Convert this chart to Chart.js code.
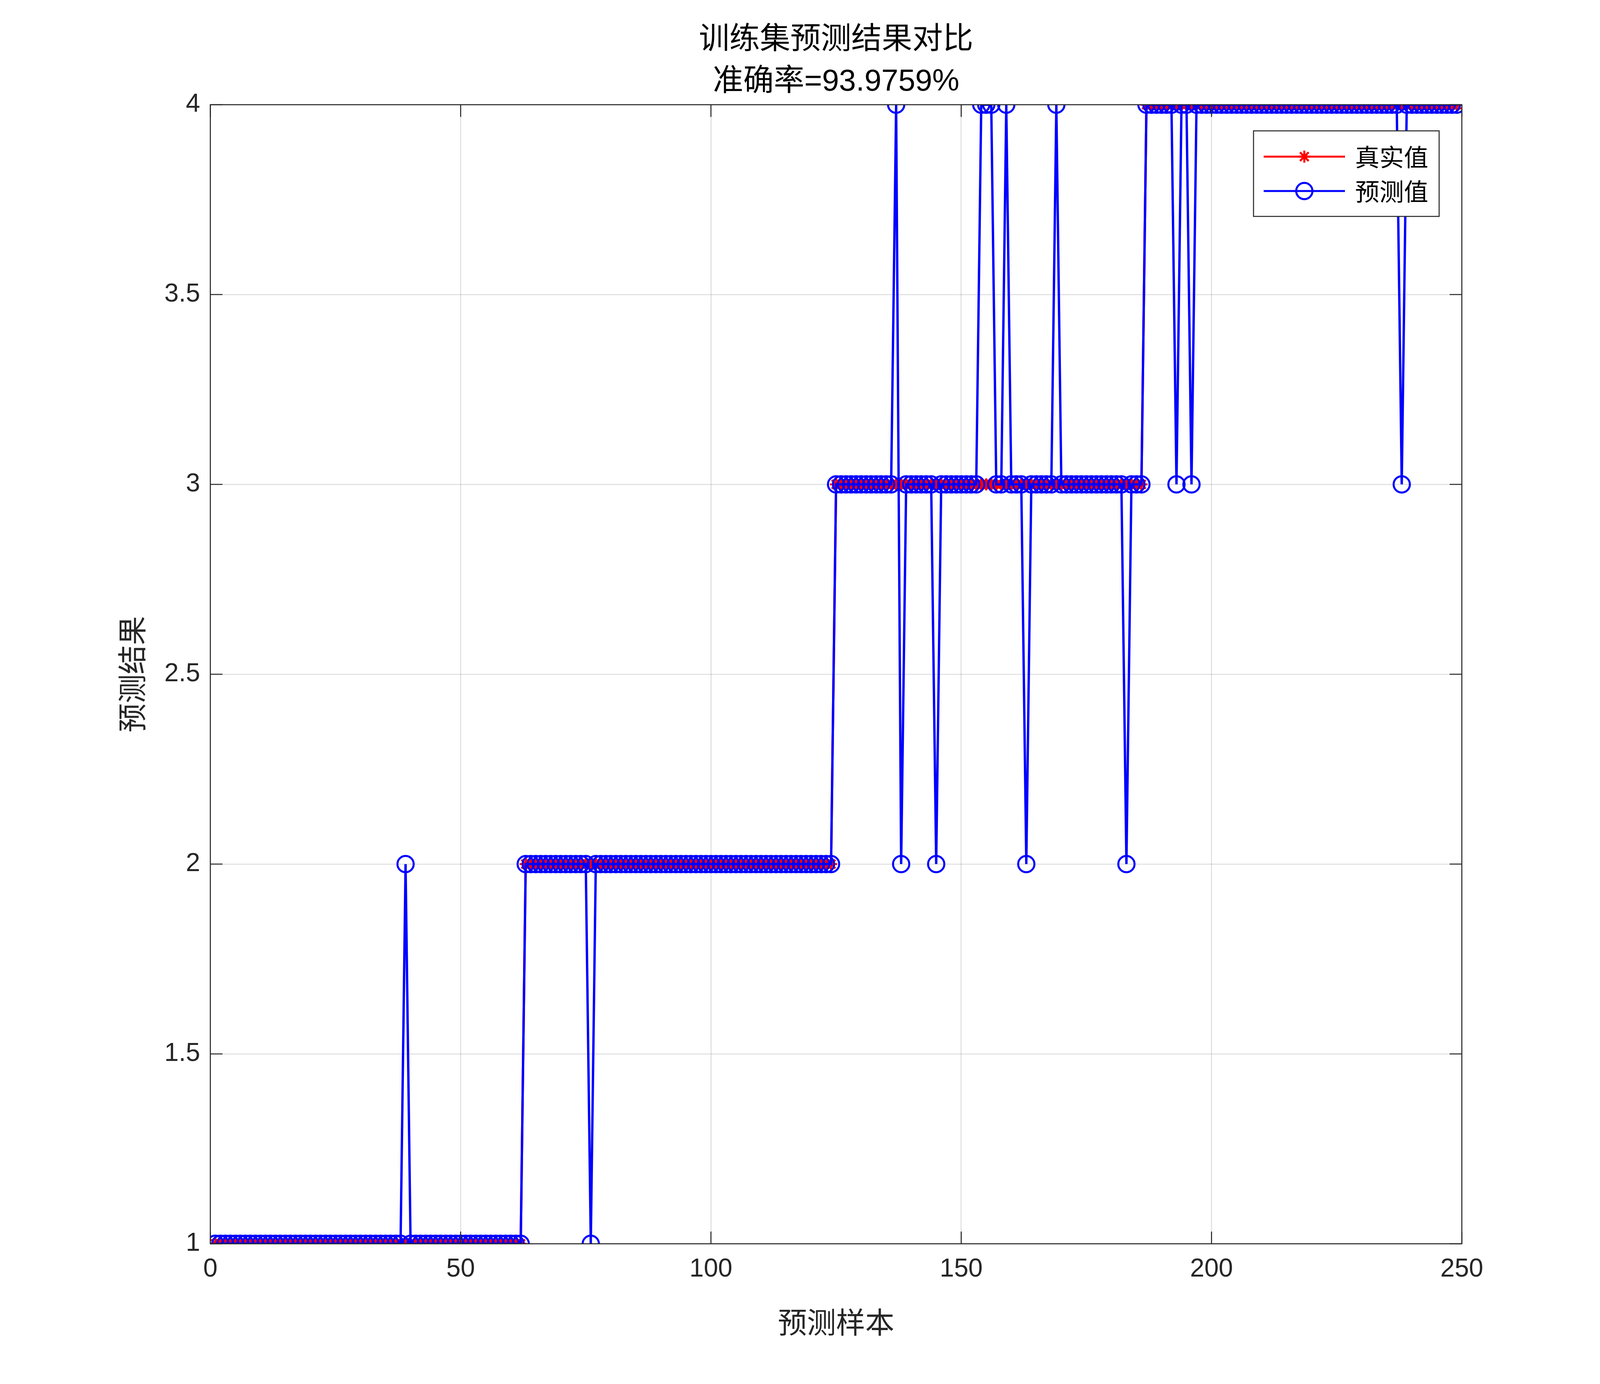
<!DOCTYPE html>
<html><head><meta charset="utf-8">
<script src="https://cdn.jsdelivr.net/npm/chart.js@4"></script>
<style>html,body{margin:0;padding:0;background:#fff;overflow:hidden}canvas{display:block}</style>
</head><body>
<canvas id="c"></canvas>
<script>
const titleLines = ["训练集预测结果对比", "准确率=93.9759%"];
const xLabel = "预测样本";
const yLabel = "预测结果";
const legendLabels = ["真实值", "预测值"];
const xTicks = [0, 50, 100, 150, 200, 250];
const yTicks = [1, 1.5, 2, 2.5, 3, 3.5, 4];
// true class per sample run: [class, count]
const trueRuns = [[1, 62], [2, 62], [3, 62], [4, 63]];
// misclassified samples: [sample index, predicted value]
const errors = [[39,2],[76,1],[137,4],[138,2],[145,2],[154,4],[155,4],[156,4],[159,4],[163,2],[169,4],[183,2],[193,3],[196,3],[238,3]];

const trueVals = [];
trueRuns.forEach(([c, n]) => { for (let i = 0; i < n; i++) trueVals.push(c); });
const predVals = trueVals.slice();
errors.forEach(([i, v]) => { predVals[i - 1] = v; });
const trueData = trueVals.map((v, i) => ({x: i + 1, y: v}));
const predData = predVals.map((v, i) => ({x: i + 1, y: v}));

const W = window.innerWidth, H = window.innerHeight;
const kx = W / 4724, ky = H / 3543, k = Math.min(kx, ky);
const cv = document.getElementById('c');
cv.width = W; cv.height = H; cv.style.width = W + 'px'; cv.style.height = H + 'px';

const FONT = "Arial, 'Liberation Sans', 'Noto Sans CJK SC', sans-serif";
const CJK = "'Noto Sans CJK SC', sans-serif";
const L = 621 * kx, R = 4316 * kx, T = 268 * ky, B = 3184 * ky;

const deco = {
  id: 'deco',
  afterDraw(ch) {
    const c = ch.ctx, a = ch.chartArea;
    c.save();
    c.strokeStyle = '#262626'; c.lineWidth = 3 * k;
    c.strokeRect(a.left, a.top, a.right - a.left, a.bottom - a.top);
    const xs = ch.scales.x, ys = ch.scales.y, tl = 36 * k;
    c.beginPath();
    xTicks.forEach(v => { const p = xs.getPixelForValue(v);
      c.moveTo(p, a.bottom); c.lineTo(p, a.bottom - tl); c.moveTo(p, a.top); c.lineTo(p, a.top + tl); });
    yTicks.forEach(v => { const p = ys.getPixelForValue(v);
      c.moveTo(a.left, p); c.lineTo(a.left + tl, p); c.moveTo(a.right, p); c.lineTo(a.right - tl, p); });
    c.stroke();
    c.fillStyle = '#000'; c.textAlign = 'center'; c.textBaseline = 'middle';
    c.font = (90 * k) + "px " + CJK;
    c.fillText(titleLines[0], (a.left + a.right) / 2, 95 * ky);
    c.font = (90 * k) + "px " + FONT;
    c.fillText(titleLines[1], (a.left + a.right) / 2, 210 * ky);
    c.fillStyle = '#262626';
    c.font = (86 * k) + "px " + CJK;
    c.fillText(xLabel, (a.left + a.right) / 2, 3385 * ky);
    c.save(); c.translate(390 * kx, (a.top + a.bottom) / 2); c.rotate(-Math.PI / 2);
    c.fillText(yLabel, 0, 0); c.restore();
    const lx = 3701 * kx, ly = 335 * ky, lw = 548 * kx, lh = 219 * ky;
    c.fillStyle = '#fff'; c.fillRect(lx, ly, lw, lh);
    c.strokeStyle = '#262626'; c.lineWidth = 3 * k; c.strokeRect(lx, ly, lw, lh);
    const rows = [[ly + 66 * ky, 'red', 'star'], [ly + 154 * ky, 'blue', 'circle']];
    rows.forEach(([yy, col, st], i) => {
      c.strokeStyle = col; c.lineWidth = 6 * k;
      c.beginPath(); c.moveTo(lx + 30 * kx, yy); c.lineTo(lx + 270 * kx, yy); c.stroke();
      c.fillStyle = 'rgba(0,0,0,0)';
      Chart.helpers.drawPoint(c, {pointStyle: st, radius: (st === 'star' ? 18 : 24) * k, borderWidth: 6 * k}, lx + 150 * kx, yy);
      c.fillStyle = '#000'; c.textAlign = 'left'; c.font = (72 * k) + "px " + CJK;
      c.fillText(legendLabels[i], lx + 300 * kx, yy + 2 * k);
    });
    c.restore();
  }
};

new Chart(cv, {
  type: 'line',
  data: { datasets: [
    { label: legendLabels[0], data: trueData, borderColor: 'red', backgroundColor: 'red',
      borderWidth: 7 * k, pointStyle: 'star', pointRadius: 18 * k, pointBorderWidth: 6 * k, pointBorderColor: 'red', order: 2 },
    { label: legendLabels[1], data: predData, borderColor: 'blue', backgroundColor: 'rgba(0,0,0,0)',
      borderWidth: 7 * k, pointStyle: 'circle', pointRadius: 24 * k, pointBorderWidth: 6 * k, pointBorderColor: 'blue', order: 1 }
  ]},
  options: {
    responsive: false, animation: false, devicePixelRatio: 1,
    layout: { padding: { top: T, right: W - R, left: 0, bottom: 0 } },
    plugins: { legend: { display: false }, tooltip: { enabled: false } },
    scales: {
      x: { type: 'linear', min: 0, max: 250,
        afterFit: s => { s.height = H - B; },
        afterBuildTicks: s => { s.ticks = xTicks.map(v => ({value: v})); },
        grid: { color: 'rgba(0,0,0,0.13)', lineWidth: 3 * k, drawTicks: false },
        border: { display: false },
        ticks: { color: '#262626', font: { size: 76 * k, family: FONT }, padding: 30 * k, callback: v => String(v) } },
      y: { type: 'linear', min: 1, max: 4,
        afterFit: s => { s.width = L; },
        afterBuildTicks: s => { s.ticks = yTicks.map(v => ({value: v})); },
        grid: { color: 'rgba(0,0,0,0.13)', lineWidth: 3 * k, drawTicks: false },
        border: { display: false },
        ticks: { color: '#262626', font: { size: 76 * k, family: FONT }, padding: 30 * k, callback: v => String(v) } }
    }
  },
  plugins: [deco]
});
</script>
</body></html>
